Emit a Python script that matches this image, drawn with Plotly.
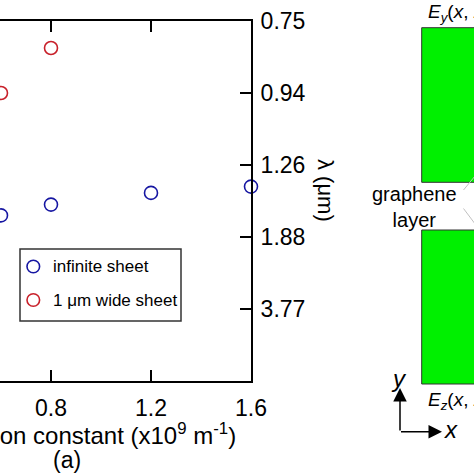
import plotly.graph_objects as go

# ---- data ----
k_infinite = [0.6, 0.8, 1.2, 1.6]          # propagation constant (x1e9 1/m)
f_infinite = [184, 196, 209, 216]          # frequency (linear scale behind the λ ticks)
k_wide = [0.6, 0.8]
f_wide = [320, 370]

y_tickvals = [80, 160, 240, 320, 400]
y_ticktext = ["3.77", "1.88", "1.26", "0.94", "0.75"]
x_tickvals = [0.8, 1.2, 1.6]
x_ticktext = ["0.8", "1.2", "1.6"]

legend_names = ["infinite sheet", "1 μm wide sheet"]
BLUE = "#1616a2"
RED = "#c8202a"

W, H = 474, 474
PL, PR, PT, PB = 0, 251, 21, 381   # plot area in pixels


def xp(px):
    return (px - PL) / (PR - PL)


def yp(py):
    return (PB - py) / (PB - PT)


FONT = "Liberation Sans, Arial, sans-serif"

fig = go.Figure()
fig.add_trace(go.Scatter(
    x=k_infinite, y=f_infinite, mode="markers", name=legend_names[0],
    marker=dict(symbol="circle-open", size=13, color=BLUE, line=dict(width=1.6, color=BLUE)),
    cliponaxis=False, showlegend=False))
fig.add_trace(go.Scatter(
    x=k_wide, y=f_wide, mode="markers", name=legend_names[1],
    marker=dict(symbol="circle-open", size=13, color=RED, line=dict(width=1.6, color=RED)),
    cliponaxis=False, showlegend=False))

fig.update_layout(
    width=W, height=H,
    margin=dict(l=PL, r=W - PR, t=PT, b=H - PB, pad=0),
    paper_bgcolor="white", plot_bgcolor="white",
    font=dict(family=FONT, size=23, color="black"),
    showlegend=False,
)
fig.update_xaxes(
    range=[0.596, 1.6], tickvals=x_tickvals, ticktext=x_ticktext,
    ticks="inside", ticklen=11, tickwidth=2, tickcolor="black",
    showline=True, linewidth=2, linecolor="black", mirror="ticks",
    showgrid=False, zeroline=False, tickfont=dict(size=23), ticklabelstandoff=5,
)
fig.update_yaxes(
    range=[0, 400], side="right", tickvals=y_tickvals, ticktext=y_ticktext,
    ticks="inside", ticklen=11, tickwidth=2, tickcolor="black",
    showline=True, linewidth=2, linecolor="black", mirror=False,
    showgrid=False, zeroline=False, tickfont=dict(size=23), ticklabelstandoff=3,
)

shapes = []
annotations = []

# legend (manual)
shapes.append(dict(type="rect", xref="paper", yref="paper",
                   x0=xp(20), x1=xp(181), y0=yp(249), y1=yp(321),
                   line=dict(color="#333333", width=1.5), fillcolor="white", layer="below"))
for name, col, cy in [(legend_names[0], BLUE, 266.5), (legend_names[1], RED, 300)]:
    shapes.append(dict(type="circle", xref="paper", yref="paper",
                       xsizemode="pixel", ysizemode="pixel",
                       xanchor=xp(33.3), yanchor=yp(cy),
                       x0=-6.3, x1=6.3, y0=-6.3, y1=6.3,
                       line=dict(color=col, width=1.6)))
    annotations.append(dict(text=name, xref="paper", yref="paper", x=xp(51), y=yp(cy),
                            xanchor="left", yanchor="middle", showarrow=False,
                            font=dict(size=17)))

# axis titles
annotations.append(dict(text="Propagation constant (x10<sup>9</sup> m<sup>-1</sup>)",
                        xref="paper", yref="paper", x=xp(238), y=yp(434),
                        xanchor="right", yanchor="middle", showarrow=False, font=dict(size=24)))
annotations.append(dict(text="(a)", xref="paper", yref="paper", x=xp(67), y=yp(460),
                        xanchor="center", yanchor="middle", showarrow=False, font=dict(size=23)))
annotations.append(dict(text="λ (μm)", xref="paper", yref="paper", x=xp(326), y=yp(190),
                        xanchor="center", yanchor="middle", showarrow=False, textangle=90,
                        font=dict(size=22)))

# right panel: field regions
GREEN = "#00f000"
shapes.append(dict(type="rect", xref="paper", yref="paper",
                   x0=xp(421.7), x1=xp(490), y0=yp(27.7), y1=yp(182.3),
                   line=dict(color="#333333", width=1), fillcolor=GREEN))
shapes.append(dict(type="rect", xref="paper", yref="paper",
                   x0=xp(421.7), x1=xp(490), y0=yp(230), y1=yp(384),
                   line=dict(color="#333333", width=1), fillcolor=GREEN))
# pointer lines to graphene layer
shapes.append(dict(type="line", xref="paper", yref="paper",
                   x0=xp(463.5), y0=yp(190), x1=xp(480), y1=yp(170),
                   line=dict(color="#c0c0c0", width=1)))
shapes.append(dict(type="line", xref="paper", yref="paper",
                   x0=xp(463.5), y0=yp(208.5), x1=xp(480), y1=yp(230.5),
                   line=dict(color="#c0c0c0", width=1)))

annotations.append(dict(text="<i>E</i><sub><i>y</i></sub>(<i>x</i>, <i>z</i>)",
                        xref="paper", yref="paper", x=xp(426), y=yp(13),
                        xanchor="left", yanchor="middle", showarrow=False, font=dict(size=19)))
annotations.append(dict(text="<i>E</i><sub><i>z</i></sub>(<i>x</i>, <i>z</i>)",
                        xref="paper", yref="paper", x=xp(426), y=yp(401),
                        xanchor="left", yanchor="middle", showarrow=False, font=dict(size=19)))
annotations.append(dict(text="graphene<br>layer", xref="paper", yref="paper",
                        x=xp(414.5), y=yp(207), xanchor="center", yanchor="middle",
                        showarrow=False, font=dict(size=20)))

# coordinate arrows
annotations.append(dict(text="", xref="paper", yref="paper", x=xp(400), y=yp(388),
                        ax=0, ay=44, axref="pixel", ayref="pixel", showarrow=True,
                        arrowhead=2, arrowsize=1.8, arrowwidth=1.5, arrowcolor="black", standoff=0))
annotations.append(dict(text="", xref="paper", yref="paper", x=xp(442), y=yp(431.7),
                        ax=-42.5, ay=0, axref="pixel", ayref="pixel", showarrow=True,
                        arrowhead=2, arrowsize=1.8, arrowwidth=1.5, arrowcolor="black", standoff=0))
annotations.append(dict(text="<i>y</i>", xref="paper", yref="paper", x=xp(398.5), y=yp(378),
                        xanchor="center", yanchor="middle", showarrow=False, font=dict(size=24)))
annotations.append(dict(text="<i>x</i>", xref="paper", yref="paper", x=xp(451), y=yp(429),
                        xanchor="center", yanchor="middle", showarrow=False, font=dict(size=24)))

fig.update_layout(shapes=shapes, annotations=annotations)
fig.write_html("out.html")
